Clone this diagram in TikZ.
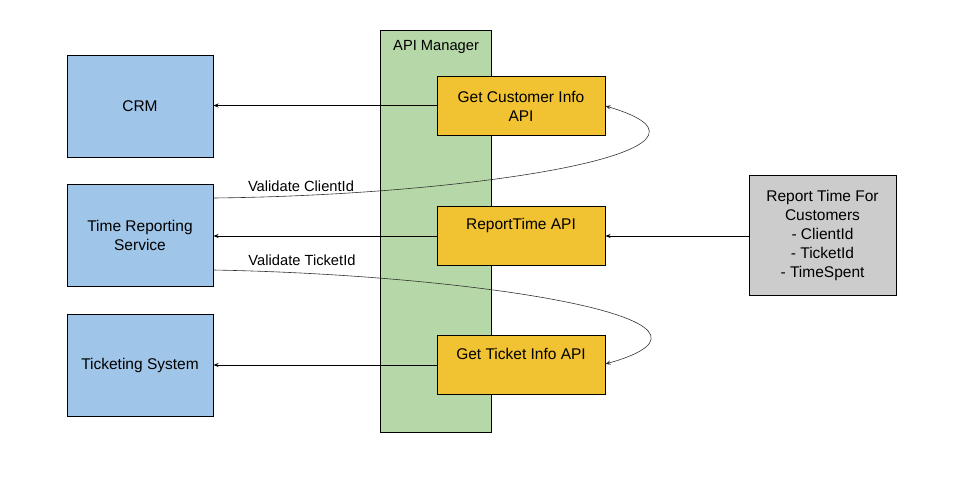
\documentclass[tikz,border=0pt]{standalone}
\usepackage{fontspec}
\setmainfont{Liberation Sans}
\usetikzlibrary{arrows.meta}
\definecolor{mgreen}{HTML}{B6D7A8}
\definecolor{mblue}{HTML}{9FC5E8}
\definecolor{myellow}{HTML}{F1C232}
\definecolor{mgray}{HTML}{CCCCCC}
\begin{document}
\begin{tikzpicture}[x=1pt,y=-1pt,
  every node/.style={font=\fontsize{15.5}{19}\selectfont, text=black, inner sep=0pt},
  box/.style={draw=black, line width=1pt, align=center},
  bluebox/.style={box, fill=mblue, minimum width=146pt, minimum height=102pt},
  apibox/.style={box, fill=myellow, minimum width=168pt, minimum height=59pt},
  conn/.style={line width=0.8pt, -{Stealth[length=5pt,width=4pt]}},
  curvy/.style={line width=0.6pt, black!80, -{Stealth[length=5pt,width=4pt]}},
  lbl/.style={font=\fontsize{14.7}{17}\selectfont}
]
\useasboundingbox (0,0) rectangle (960,480);
% API manager
\node[box, fill=mgreen, minimum width=111pt, minimum height=402pt, anchor=north west] (mgr) at (380,30) {};
\node[lbl, anchor=west] (mgrlbl) at (393,47) {API Manager};
% left systems
\node[bluebox] (crm) at (140,106) {CRM};
\node[bluebox] (trs) at (140,235) {Time Reporting\\Service};
\node[bluebox] (tkt) at (140,365.5) {Ticketing System};
% APIs
\node[apibox] (gci) at (521,105.5) {};
\node (gcit) at (521,106) [align=center] {Get Customer Info\\API};
\node[apibox] (rta) at (521,235.5) {};
\node (rtat) at (521,225) {ReportTime API};
\node[apibox] (gti) at (521,364.5) {};
\node (gtit) at (521,354) {Get Ticket Info API};
% report box
\node[box, fill=mgray, minimum width=147pt, minimum height=120pt] (rep) at (822.5,235) {Report Time For\\Customers\\- ClientId\\- TicketId\\- TimeSpent};
% straight arrows
\draw[conn] (gci.west) -- (crm.east |- gci.west);
\draw[conn] (rta.west |- 0,236) -- (trs.east |- 0,236);
\draw[conn] (gti.west |- 0,365) -- (tkt.east |- 0,365);
\draw[conn] (rep.west |- 0,236) -- (rta.east |- 0,236);
% curved arrows
\coordinate (c1s) at (trs.east |- 0,198);
\coordinate (c1e) at (gci.east |- 0,106);
\draw[curvy] (c1s) .. controls (480,195) and (755,150) .. (c1e);
\node[lbl] (v1) at (301,186) {Validate ClientId};
\coordinate (c2s) at (trs.east |- 0,270);
\coordinate (c2e) at (gti.east |- 0,364);
\draw[curvy] (c2s) .. controls (480,275) and (760,320) .. (c2e);
\node[lbl] (v2) at (302,260) {Validate TicketId};
\end{tikzpicture}
\end{document}
